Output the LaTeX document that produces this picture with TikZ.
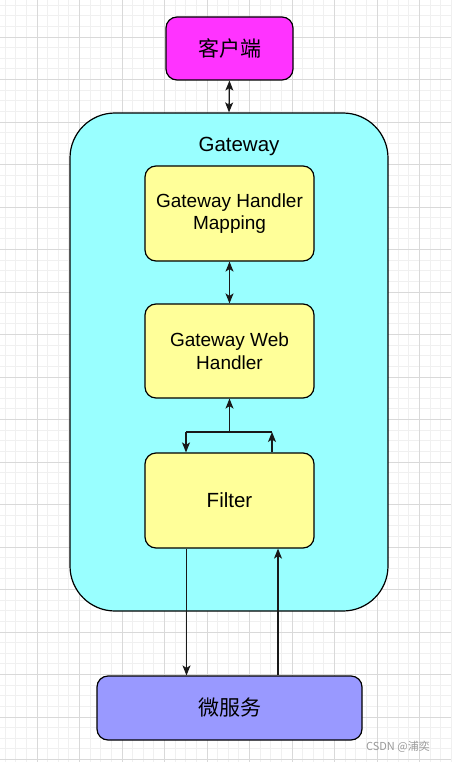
\documentclass[tikz,border=0pt]{standalone}
\usepackage{fontspec}
\setmainfont{Liberation Sans}
\newfontfamily\cjk{Noto Sans CJK SC}
\usetikzlibrary{arrows.meta}
\definecolor{clientc}{HTML}{FF33FF}
\definecolor{gwc}{HTML}{99FFFF}
\definecolor{yelc}{HTML}{FFFF99}
\definecolor{msc}{HTML}{9999FF}
\definecolor{minorg}{HTML}{F0F0F0}
\definecolor{majorg}{HTML}{D9D9D9}
\tikzset{
  box/.style={draw=black, line width=1.2pt, rounded corners=11pt, align=center, inner sep=0pt},
  conn/.style={line width=1.3pt, draw=black!90},
  tip/.style={-{Stealth[length=10pt,width=8pt,inset=2.5pt]}},
  dtip/.style={{Stealth[length=10pt,width=8pt,inset=2.5pt]}-{Stealth[length=10pt,width=8pt,inset=2.5pt]}},
}
\begin{document}
\begin{tikzpicture}[x=1pt,y=-1pt]
\useasboundingbox (0,0) rectangle (451,762);
\fill[white] (0,0) rectangle (451,762);
\foreach \i in {0,...,43} \draw[minorg, line width=0.8pt] ({5.125+10.625*\i},0) -- ++(0,762);
\foreach \i in {0,...,72} \draw[minorg, line width=0.8pt] (0,{5.125+10.625*\i}) -- ++(451,0);
\foreach \i in {0,...,11} \draw[majorg, line width=0.9pt] ({-5.5+42.5*\i},0) -- ++(0,762);
\foreach \i in {0,...,18} \draw[majorg, line width=0.9pt] (0,{-5.5+42.5*\i}) -- ++(451,0);

\node[box, fill=clientc, minimum width=127pt, minimum height=63pt, font=\cjk\fontsize{21}{24}\selectfont] (client) at (229.5,48.5) {客户端};
\node[box, fill=gwc, rounded corners=45pt, minimum width=318pt, minimum height=498pt] (gw) at (229,362) {};
\node[font=\fontsize{20.5}{24}\selectfont, inner sep=0pt] (gwlabel) at (239,146) {Gateway};
\node[box, fill=yelc, minimum width=169pt, minimum height=95pt, font=\fontsize{19}{22.5}\selectfont] (map) at (229.5,213.5) {Gateway Handler\\Mapping};
\node[box, fill=yelc, minimum width=169pt, minimum height=94pt, font=\fontsize{19}{22.5}\selectfont] (web) at (229.5,351) {Gateway Web\\Handler};
\node[box, fill=yelc, minimum width=169pt, minimum height=95pt, font=\fontsize{20.5}{24}\selectfont] (filter) at (229.5,500.5) {Filter};
\node[box, fill=msc, minimum width=265pt, minimum height=64pt, font=\cjk\fontsize{21}{24}\selectfont] (ms) at (229.5,708) {微服务};
\node[text=black!40, font=\cjk\fontsize{11}{13}\selectfont, anchor=east, inner sep=0pt] (wm) at (430,747) {CSDN @浦奕};

\draw[conn, dtip] (client.south) -- (gw.north);
\draw[conn, dtip] (map.south) -- (web.north);

\coordinate (jl) at (186,432);
\coordinate (jc) at (229.5,432);
\coordinate (jr) at (272,432);
\draw[conn] (jl) -- (jr);
\draw[conn, tip] (filter.north -| jr) -- (jr);
\draw[conn, tip] (jl) -- (filter.north -| jl);
\draw[conn, tip] (jc) -- (web.south);

\coordinate (bl) at (186.5,600);
\coordinate (br) at (278,600);
\draw[conn, tip] (filter.south -| bl) -- (ms.north -| bl);
\draw[conn, tip] (ms.north -| br) -- (filter.south -| br);
\end{tikzpicture}
\end{document}
